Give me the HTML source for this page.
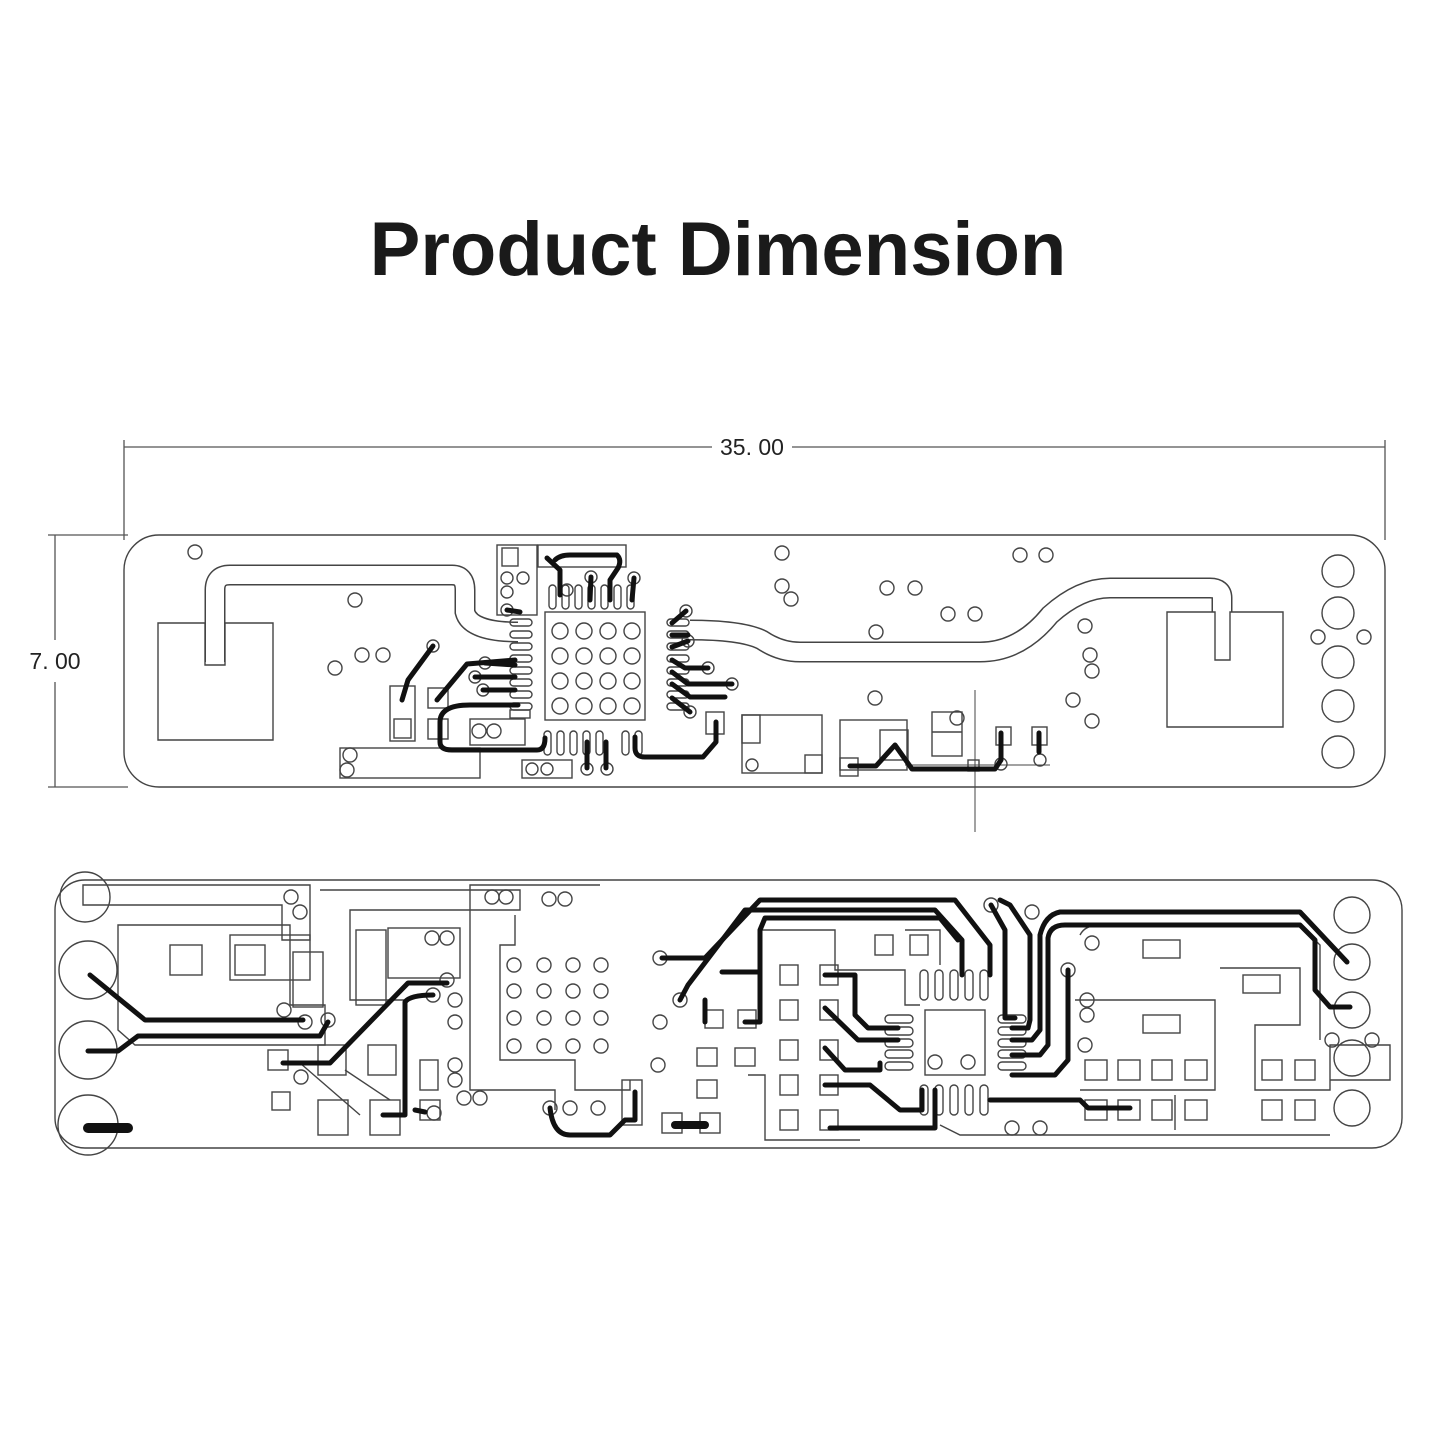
<!DOCTYPE html>
<html><head><meta charset="utf-8"><style>
html,body{margin:0;padding:0;background:#fff;}
svg{display:block}
</style></head><body>
<svg width="1440" height="1440" viewBox="0 0 1440 1440" xmlns="http://www.w3.org/2000/svg">
<rect width="1440" height="1440" fill="#fff"/>
<text x="718" y="275" text-anchor="middle" font-family="Liberation Sans, sans-serif" font-weight="bold" font-size="76" fill="#1a1a1a">Product Dimension</text>

<!-- dimensions -->
<g stroke="#555" stroke-width="1.3" fill="none">
<line x1="124" y1="447" x2="712" y2="447"/><line x1="792" y1="447" x2="1385" y2="447"/>
<line x1="124" y1="440" x2="124" y2="540"/><line x1="1385" y1="440" x2="1385" y2="540"/>
<line x1="55" y1="535" x2="55" y2="640"/><line x1="55" y1="682" x2="55" y2="787"/>
<line x1="48" y1="535" x2="128" y2="535"/><line x1="48" y1="787" x2="128" y2="787"/>
</g>
<text x="752" y="455" text-anchor="middle" font-family="Liberation Sans, sans-serif" font-size="23" fill="#222">35. 00</text>
<text x="55" y="669" text-anchor="middle" font-family="Liberation Sans, sans-serif" font-size="23" fill="#222">7. 00</text>

<!-- TOP BOARD -->
<g fill="none" stroke="#444" stroke-width="1.4">
<rect x="124" y="535" width="1261" height="252" rx="35"/>
<path d="M215,662 V590 Q215,575 230,575 H452 Q465,575 465,590 V612 Q470,632 518,632" stroke="#444" stroke-width="21"/>
<path d="M215,662 V590 Q215,575 230,575 H452 Q465,575 465,590 V612 Q470,632 518,632" stroke="#fff" stroke-width="18"/>
<path d="M1222,658 V598 Q1222,588 1210,588 H1110 Q1080,588 1050,615 Q1020,652 980,652 H800 Q780,652 762,640 Q742,630 690,630" stroke="#444" stroke-width="21"/>
<path d="M1222,658 V598 Q1222,588 1210,588 H1110 Q1080,588 1050,615 Q1020,652 980,652 H800 Q780,652 762,640 Q742,630 690,630" stroke="#fff" stroke-width="18"/>
<path d="M158,623 H205 V665 H225 V623 H273 V740 H158 Z" fill="#fff"/>
<path d="M1167,612 H1215 V660 H1230 V612 H1283 V727 H1167 Z" fill="#fff"/>
<circle cx="195" cy="552" r="7"/><circle cx="355" cy="600" r="7"/><circle cx="362" cy="655" r="7"/><circle cx="383" cy="655" r="7"/><circle cx="335" cy="668" r="7"/>
<circle cx="782" cy="553" r="7"/><circle cx="782" cy="586" r="7"/><circle cx="791" cy="599" r="7"/><circle cx="887" cy="588" r="7"/><circle cx="915" cy="588" r="7"/><circle cx="948" cy="614" r="7"/><circle cx="975" cy="614" r="7"/><circle cx="876" cy="632" r="7"/>
<circle cx="1020" cy="555" r="7"/><circle cx="1046" cy="555" r="7"/><circle cx="1085" cy="626" r="7"/><circle cx="1090" cy="655" r="7"/><circle cx="1092" cy="671" r="7"/><circle cx="1073" cy="700" r="7"/><circle cx="1092" cy="721" r="7"/><circle cx="875" cy="698" r="7"/>
<circle cx="1338" cy="571" r="16"/><circle cx="1338" cy="613" r="16"/><circle cx="1338" cy="662" r="16"/><circle cx="1338" cy="706" r="16"/><circle cx="1338" cy="752" r="16"/>
<circle cx="1318" cy="637" r="7"/><circle cx="1364" cy="637" r="7"/>
<rect x="545" y="612" width="100" height="108"/>
<g>
<circle cx="560" cy="631" r="8"/><circle cx="584" cy="631" r="8"/><circle cx="608" cy="631" r="8"/><circle cx="632" cy="631" r="8"/>
<circle cx="560" cy="656" r="8"/><circle cx="584" cy="656" r="8"/><circle cx="608" cy="656" r="8"/><circle cx="632" cy="656" r="8"/>
<circle cx="560" cy="681" r="8"/><circle cx="584" cy="681" r="8"/><circle cx="608" cy="681" r="8"/><circle cx="632" cy="681" r="8"/>
<circle cx="560" cy="706" r="8"/><circle cx="584" cy="706" r="8"/><circle cx="608" cy="706" r="8"/><circle cx="632" cy="706" r="8"/>
</g>
<g>
<rect x="510" y="619" width="22" height="7" rx="3.5"/><rect x="510" y="631" width="22" height="7" rx="3.5"/><rect x="510" y="643" width="22" height="7" rx="3.5"/><rect x="510" y="655" width="22" height="7" rx="3.5"/><rect x="510" y="667" width="22" height="7" rx="3.5"/><rect x="510" y="679" width="22" height="7" rx="3.5"/><rect x="510" y="691" width="22" height="7" rx="3.5"/><rect x="510" y="703" width="22" height="7" rx="3.5"/>
<rect x="667" y="619" width="22" height="7" rx="3.5"/><rect x="667" y="631" width="22" height="7" rx="3.5"/><rect x="667" y="643" width="22" height="7" rx="3.5"/><rect x="667" y="655" width="22" height="7" rx="3.5"/><rect x="667" y="667" width="22" height="7" rx="3.5"/><rect x="667" y="679" width="22" height="7" rx="3.5"/><rect x="667" y="691" width="22" height="7" rx="3.5"/><rect x="667" y="703" width="22" height="7" rx="3.5"/>
<rect x="549" y="585" width="7" height="24" rx="3.5"/><rect x="562" y="585" width="7" height="24" rx="3.5"/><rect x="575" y="585" width="7" height="24" rx="3.5"/><rect x="588" y="585" width="7" height="24" rx="3.5"/><rect x="601" y="585" width="7" height="24" rx="3.5"/><rect x="614" y="585" width="7" height="24" rx="3.5"/><rect x="627" y="585" width="7" height="24" rx="3.5"/>
<rect x="544" y="731" width="7" height="24" rx="3.5"/><rect x="557" y="731" width="7" height="24" rx="3.5"/><rect x="570" y="731" width="7" height="24" rx="3.5"/><rect x="583" y="731" width="7" height="24" rx="3.5"/><rect x="596" y="731" width="7" height="24" rx="3.5"/><rect x="622" y="731" width="7" height="24" rx="3.5"/><rect x="635" y="731" width="7" height="24" rx="3.5"/>
</g>
<rect x="497" y="545" width="40" height="70"/><rect x="502" y="548" width="16" height="18"/><circle cx="507" cy="578" r="6"/><circle cx="523" cy="578" r="6"/><circle cx="507" cy="592" r="6"/><circle cx="507" cy="610" r="6"/>
<rect x="538" y="545" width="88" height="22"/>
<rect x="390" y="686" width="25" height="55"/><rect x="394" y="719" width="17" height="19"/>
<rect x="428" y="688" width="20" height="20"/><rect x="428" y="719" width="20" height="20"/>
<rect x="340" y="748" width="140" height="30"/><circle cx="350" cy="755" r="7"/><circle cx="347" cy="770" r="7"/>
<rect x="470" y="719" width="55" height="26"/><circle cx="479" cy="731" r="7"/><circle cx="494" cy="731" r="7"/><rect x="510" y="710" width="20" height="8"/>
<rect x="522" y="760" width="50" height="18"/><circle cx="532" cy="769" r="6"/><circle cx="547" cy="769" r="6"/>
<rect x="706" y="712" width="18" height="22"/>
<rect x="742" y="715" width="80" height="58"/><rect x="742" y="715" width="18" height="28"/><circle cx="752" cy="765" r="6"/><rect x="805" y="755" width="17" height="18"/>
<rect x="840" y="720" width="67" height="50"/><rect x="880" y="730" width="28" height="30"/><rect x="840" y="758" width="18" height="18"/>
<rect x="932" y="712" width="30" height="44"/><line x1="932" y1="732" x2="962" y2="732"/><circle cx="957" cy="718" r="7"/>
<rect x="996" y="727" width="15" height="18"/><rect x="1032" y="727" width="15" height="18"/><circle cx="1001" cy="764" r="6"/><circle cx="1040" cy="760" r="6"/>
<rect x="968" y="760" width="11" height="11"/>
<line x1="975" y1="690" x2="975" y2="832" stroke-width="1"/>
<line x1="905" y1="765" x2="1050" y2="765" stroke-width="1"/>
<circle cx="433" cy="646" r="6"/><circle cx="485" cy="663" r="6"/><circle cx="475" cy="677" r="6"/><circle cx="483" cy="690" r="6"/><circle cx="686" cy="611" r="6"/><circle cx="688" cy="641" r="6"/><circle cx="708" cy="668" r="6"/><circle cx="732" cy="684" r="6"/><circle cx="690" cy="712" r="6"/><circle cx="567" cy="590" r="6"/><circle cx="591" cy="577" r="6"/><circle cx="634" cy="578" r="6"/><circle cx="587" cy="769" r="6"/><circle cx="607" cy="769" r="6"/>
</g>
<g fill="none" stroke="#111" stroke-width="5" stroke-linejoin="round" stroke-linecap="round">
<path d="M402,700 L408,680 L433,646"/>
<path d="M437,700 L467,664 L515,660"/>
<path d="M485,663 L515,665"/><path d="M483,690 L515,690"/><path d="M475,677 L515,677"/>
<path d="M518,705 H470 Q440,705 440,722 V742 Q440,750 452,750 H537 Q545,750 545,738"/>
<path d="M547,558 L560,570 V595"/><path d="M555,560 Q560,555 570,555 H617 Q622,560 618,568 L610,580 V600"/><path d="M591,577 L590,600"/><path d="M634,578 L632,600"/>
<path d="M507,610 L520,612"/>
<path d="M686,611 L672,623"/><path d="M672,635 L688,635"/><path d="M672,647 L688,641"/><path d="M672,660 L685,668 L708,668"/><path d="M672,672 L688,684 L732,684"/><path d="M672,684 L690,697 L725,697"/><path d="M672,698 L690,712"/>
<path d="M635,737 V748 Q635,757 645,757 H703 L716,742 V722"/>
<path d="M587,742 V768"/><path d="M606,742 V768"/>
<path d="M850,766 H876 L895,745 L912,769 H995 L1001,760 V733"/>
<path d="M1039,733 V752"/>
</g>

<!-- BOTTOM BOARD -->
<g fill="none" stroke="#444" stroke-width="1.4">
<rect x="55" y="880" width="1347" height="268" rx="30"/>
<circle cx="85" cy="897" r="25"/><circle cx="88" cy="970" r="29"/><circle cx="88" cy="1050" r="29"/><circle cx="88" cy="1125" r="30"/>
<circle cx="1352" cy="915" r="18"/><circle cx="1352" cy="962" r="18"/><circle cx="1352" cy="1010" r="18"/><circle cx="1352" cy="1058" r="18"/><circle cx="1352" cy="1108" r="18"/>
<circle cx="1332" cy="1040" r="7"/><circle cx="1372" cy="1040" r="7"/>
<path d="M83,885 H310 V940 H282 V905 H83 Z"/>
<path d="M118,925 H290 V1005 H325 V1045 H135 L118,1030 Z"/>
<rect x="170" y="945" width="32" height="30"/><rect x="230" y="935" width="80" height="45"/><rect x="235" y="945" width="30" height="30"/>
<rect x="293" y="952" width="30" height="55"/>
<path d="M320,890 H520 V910 H350 V1000 H410"/>
<rect x="356" y="930" width="30" height="75"/><rect x="388" y="928" width="72" height="50"/>
<circle cx="291" cy="897" r="7"/><circle cx="300" cy="912" r="7"/><circle cx="432" cy="938" r="7"/><circle cx="447" cy="938" r="7"/>
<circle cx="492" cy="897" r="7"/><circle cx="506" cy="897" r="7"/><circle cx="549" cy="899" r="7"/><circle cx="565" cy="899" r="7"/>
<circle cx="284" cy="1010" r="7"/><circle cx="305" cy="1022" r="7"/><circle cx="328" cy="1020" r="7"/><circle cx="455" cy="1000" r="7"/><circle cx="433" cy="995" r="7"/><circle cx="447" cy="980" r="7"/>
<circle cx="455" cy="1022" r="7"/><circle cx="455" cy="1065" r="7"/><circle cx="455" cy="1080" r="7"/><circle cx="464" cy="1098" r="7"/><circle cx="480" cy="1098" r="7"/><circle cx="301" cy="1077" r="7"/><circle cx="434" cy="1113" r="7"/>
<path d="M600,885 H470 V1090 H555 V1110"/>
<path d="M515,915 V945 H500 V1060 H575 V1090 H630 V1080"/>
<g><circle cx="514" cy="965" r="7"/><circle cx="544" cy="965" r="7"/><circle cx="573" cy="965" r="7"/><circle cx="601" cy="965" r="7"/>
<circle cx="514" cy="991" r="7"/><circle cx="544" cy="991" r="7"/><circle cx="573" cy="991" r="7"/><circle cx="601" cy="991" r="7"/>
<circle cx="514" cy="1018" r="7"/><circle cx="544" cy="1018" r="7"/><circle cx="573" cy="1018" r="7"/><circle cx="601" cy="1018" r="7"/>
<circle cx="514" cy="1046" r="7"/><circle cx="544" cy="1046" r="7"/><circle cx="573" cy="1046" r="7"/><circle cx="601" cy="1046" r="7"/></g>
<rect x="268" y="1050" width="20" height="20"/><rect x="318" y="1045" width="28" height="30"/><rect x="368" y="1045" width="28" height="30"/><rect x="420" y="1060" width="18" height="30"/>
<rect x="272" y="1092" width="18" height="18"/><rect x="318" y="1100" width="30" height="35"/><rect x="370" y="1100" width="30" height="35"/><rect x="420" y="1100" width="20" height="20"/>
<path d="M300,1063 L360,1115"/><path d="M345,1070 L390,1100"/>
<circle cx="660" cy="958" r="7"/><circle cx="680" cy="1000" r="7"/><circle cx="660" cy="1022" r="7"/><circle cx="658" cy="1065" r="7"/>
<rect x="697" y="1048" width="20" height="18"/><rect x="735" y="1048" width="20" height="18"/><rect x="697" y="1080" width="20" height="18"/><rect x="622" y="1080" width="20" height="45"/>
<rect x="662" y="1113" width="20" height="20"/><rect x="700" y="1113" width="20" height="20"/>
<rect x="705" y="1010" width="18" height="18"/><rect x="738" y="1010" width="18" height="18"/>
<circle cx="550" cy="1108" r="7"/><circle cx="570" cy="1108" r="7"/><circle cx="598" cy="1108" r="7"/>
<rect x="780" y="965" width="18" height="20"/><rect x="780" y="1000" width="18" height="20"/><rect x="780" y="1040" width="18" height="20"/><rect x="780" y="1075" width="18" height="20"/><rect x="780" y="1110" width="18" height="20"/>
<rect x="820" y="965" width="18" height="20"/><rect x="820" y="1000" width="18" height="20"/><rect x="820" y="1040" width="18" height="20"/><rect x="820" y="1075" width="18" height="20"/><rect x="820" y="1110" width="18" height="20"/>
<rect x="875" y="935" width="18" height="20"/><rect x="910" y="935" width="18" height="20"/>
<rect x="925" y="1010" width="60" height="65"/><circle cx="935" cy="1062" r="7"/><circle cx="968" cy="1062" r="7"/>
<rect x="885" y="1050" width="28" height="8" rx="4"/><rect x="885" y="1062" width="28" height="8" rx="4"/><rect x="885" y="1027" width="28" height="8" rx="4"/><rect x="885" y="1039" width="28" height="8" rx="4"/><rect x="885" y="1015" width="28" height="8" rx="4"/>
<rect x="998" y="1015" width="28" height="8" rx="4"/><rect x="998" y="1027" width="28" height="8" rx="4"/><rect x="998" y="1039" width="28" height="8" rx="4"/><rect x="998" y="1050" width="28" height="8" rx="4"/><rect x="998" y="1062" width="28" height="8" rx="4"/>
<rect x="920" y="970" width="8" height="30" rx="4"/><rect x="935" y="970" width="8" height="30" rx="4"/><rect x="950" y="970" width="8" height="30" rx="4"/><rect x="965" y="970" width="8" height="30" rx="4"/><rect x="980" y="970" width="8" height="30" rx="4"/>
<rect x="920" y="1085" width="8" height="30" rx="4"/><rect x="935" y="1085" width="8" height="30" rx="4"/><rect x="950" y="1085" width="8" height="30" rx="4"/><rect x="965" y="1085" width="8" height="30" rx="4"/><rect x="980" y="1085" width="8" height="30" rx="4"/>
<circle cx="991" cy="905" r="7"/><circle cx="1032" cy="912" r="7"/><circle cx="1068" cy="970" r="7"/><circle cx="1092" cy="943" r="7"/><circle cx="1087" cy="1000" r="7"/><circle cx="1087" cy="1015" r="7"/><circle cx="1085" cy="1045" r="7"/><circle cx="1012" cy="1128" r="7"/><circle cx="1040" cy="1128" r="7"/>
<rect x="1143" y="940" width="37" height="18"/><rect x="1143" y="1015" width="37" height="18"/><rect x="1243" y="975" width="37" height="18"/>
<rect x="1085" y="1060" width="22" height="20"/><rect x="1118" y="1060" width="22" height="20"/><rect x="1152" y="1060" width="20" height="20"/><rect x="1185" y="1060" width="22" height="20"/>
<rect x="1085" y="1100" width="22" height="20"/><rect x="1118" y="1100" width="22" height="20"/><rect x="1152" y="1100" width="20" height="20"/><rect x="1185" y="1100" width="22" height="20"/>
<rect x="1262" y="1060" width="20" height="20"/><rect x="1295" y="1060" width="20" height="20"/><rect x="1262" y="1100" width="20" height="20"/><rect x="1295" y="1100" width="20" height="20"/>
<path d="M1075,1000 H1215 V1090 H1080"/><path d="M1220,968 H1300 V1025 H1255 V1090 H1330 V1045 H1390 V1080 H1330"/>
<path d="M1080,935 Q1085,925 1100,925 H1300 L1320,945 V1040"/>
<path d="M760,930 H835 V970 H905 V1005 H920"/><path d="M905,930 H940 V965"/>
<path d="M748,1075 H765 V1140 H860"/><path d="M940,1125 Q950,1130 960,1135 H1330"/>
<path d="M1175,1130 V1095"/>
</g>
<g fill="none" stroke="#111" stroke-width="5" stroke-linejoin="round" stroke-linecap="round">
<path d="M90,975 L145,1020 H303"/>
<path d="M88,1051 H118 L138,1036 H320 L328,1022"/>
<path d="M88,1128 H128" stroke-width="10"/>
<path d="M283,1063 H330 L408,983 H447"/>
<path d="M383,1115 H405 V1002 Q410,995 433,995"/>
<path d="M415,1110 L425,1112"/>
<path d="M550,1108 Q553,1135 570,1135 H610 L625,1120 H635 V1092"/>
<path d="M675,1125 H705" stroke-width="8"/>
<path d="M662,958 H705 L760,900 H955 L990,945 V975"/>
<path d="M680,1000 L688,985 L745,910 H935 L962,940 V975"/>
<path d="M705,1000 V1022"/><path d="M722,972 H760 V1022 L745,1022"/>
<path d="M760,1020 V930 L765,918 H940 L958,940"/>
<path d="M825,975 H855 V1015 L868,1028 H898"/>
<path d="M825,1008 L858,1040 H898"/>
<path d="M825,1048 L845,1070 H880 L880,1063"/>
<path d="M825,1085 H870 L900,1110 H922 V1090"/>
<path d="M830,1128 H935 V1090"/>
<path d="M991,905 L1005,930 V1005 V1018 H1015"/>
<path d="M1012,1028 H1028 L1030,1020 V935 L1010,905 L1000,900"/>
<path d="M1012,1040 H1032 L1040,1030 V935 Q1045,915 1060,912 H1300 L1347,962"/>
<path d="M1012,1055 H1040 L1048,1045 V938 Q1050,925 1065,925 H1300 L1315,940 V990 L1330,1007 H1350"/>
<path d="M1012,1075 H1055 L1068,1060 V970"/>
<path d="M990,1100 H1080 L1088,1108 H1130"/>
</g>
</svg>
</body></html>
